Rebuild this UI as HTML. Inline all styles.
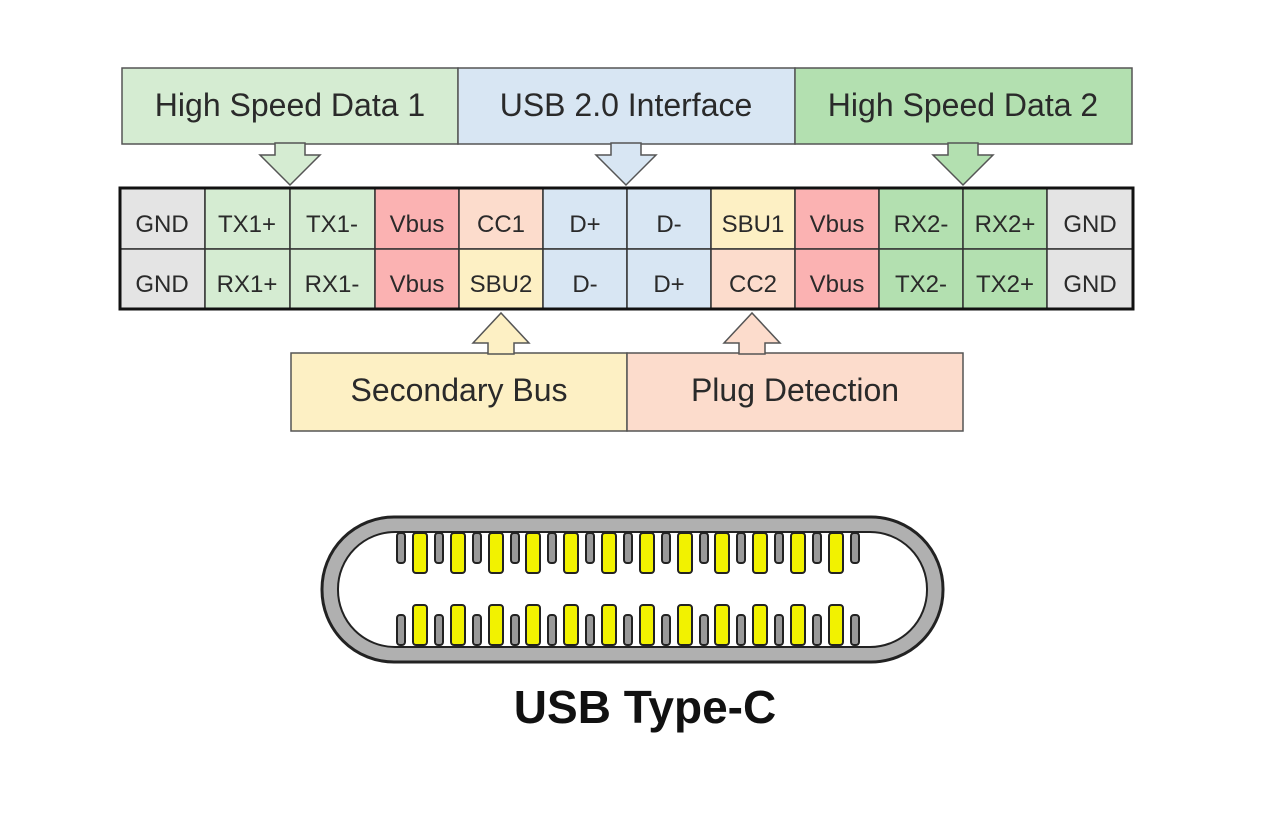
<!DOCTYPE html>
<html><head><meta charset="utf-8"><style>
html,body{margin:0;padding:0;background:#fff;}
svg{display:block}
text{font-family:"Liberation Sans",sans-serif;}
.c{font-size:24px;fill:#2a2a2a;text-anchor:middle}
.h{font-size:32px;fill:#2a2a2a;text-anchor:middle}
</style></head><body>
<svg width="1271" height="840" viewBox="0 0 1271 840">
<rect x="122" y="68" width="336" height="76" fill="#d5ecd2" stroke="#555" stroke-width="1.5"/>
<rect x="458" y="68" width="337" height="76" fill="#d8e6f3" stroke="#555" stroke-width="1.5"/>
<rect x="795" y="68" width="337" height="76" fill="#b3e0b0" stroke="#555" stroke-width="1.5"/>
<text class="h" x="290" y="116">High Speed Data 1</text>
<text class="h" x="626" y="116">USB 2.0 Interface</text>
<text class="h" x="963" y="116">High Speed Data 2</text>
<polygon points="275,143 275,155 260,155 290,185 320,155 305,155 305,143" fill="#d5ecd2" stroke="#555" stroke-width="1.5"/>
<polygon points="611,143 611,155 596,155 626,185 656,155 641,155 641,143" fill="#d8e6f3" stroke="#555" stroke-width="1.5"/>
<polygon points="948,143 948,155 933,155 963,185 993,155 978,155 978,143" fill="#b3e0b0" stroke="#555" stroke-width="1.5"/>
<g stroke="#333" stroke-width="1.5">
<rect x="120" y="188" width="85" height="61" fill="#e4e4e4"/>
<rect x="205" y="188" width="85" height="61" fill="#d5ecd2"/>
<rect x="290" y="188" width="85" height="61" fill="#d5ecd2"/>
<rect x="375" y="188" width="84" height="61" fill="#fbb2b2"/>
<rect x="459" y="188" width="84" height="61" fill="#fcdccc"/>
<rect x="543" y="188" width="84" height="61" fill="#d8e6f3"/>
<rect x="627" y="188" width="84" height="61" fill="#d8e6f3"/>
<rect x="711" y="188" width="84" height="61" fill="#fdf0c4"/>
<rect x="795" y="188" width="84" height="61" fill="#fbb2b2"/>
<rect x="879" y="188" width="84" height="61" fill="#b3e0b0"/>
<rect x="963" y="188" width="84" height="61" fill="#b3e0b0"/>
<rect x="1047" y="188" width="86" height="61" fill="#e4e4e4"/>
<rect x="120" y="249" width="85" height="60" fill="#e4e4e4"/>
<rect x="205" y="249" width="85" height="60" fill="#d5ecd2"/>
<rect x="290" y="249" width="85" height="60" fill="#d5ecd2"/>
<rect x="375" y="249" width="84" height="60" fill="#fbb2b2"/>
<rect x="459" y="249" width="84" height="60" fill="#fdf0c4"/>
<rect x="543" y="249" width="84" height="60" fill="#d8e6f3"/>
<rect x="627" y="249" width="84" height="60" fill="#d8e6f3"/>
<rect x="711" y="249" width="84" height="60" fill="#fcdccc"/>
<rect x="795" y="249" width="84" height="60" fill="#fbb2b2"/>
<rect x="879" y="249" width="84" height="60" fill="#b3e0b0"/>
<rect x="963" y="249" width="84" height="60" fill="#b3e0b0"/>
<rect x="1047" y="249" width="86" height="60" fill="#e4e4e4"/>
</g>
<rect x="120" y="188" width="1013" height="121" fill="none" stroke="#111" stroke-width="3"/>
<text class="c" x="162" y="232">GND</text><text class="c" x="247" y="232">TX1+</text><text class="c" x="332" y="232">TX1-</text><text class="c" x="417" y="232">Vbus</text><text class="c" x="501" y="232">CC1</text><text class="c" x="585" y="232">D+</text><text class="c" x="669" y="232">D-</text><text class="c" x="753" y="232">SBU1</text><text class="c" x="837" y="232">Vbus</text><text class="c" x="921" y="232">RX2-</text><text class="c" x="1005" y="232">RX2+</text><text class="c" x="1090" y="232">GND</text>
<text class="c" x="162" y="292">GND</text><text class="c" x="247" y="292">RX1+</text><text class="c" x="332" y="292">RX1-</text><text class="c" x="417" y="292">Vbus</text><text class="c" x="501" y="292">SBU2</text><text class="c" x="585" y="292">D-</text><text class="c" x="669" y="292">D+</text><text class="c" x="753" y="292">CC2</text><text class="c" x="837" y="292">Vbus</text><text class="c" x="921" y="292">TX2-</text><text class="c" x="1005" y="292">TX2+</text><text class="c" x="1090" y="292">GND</text>
<rect x="291" y="353" width="336" height="78" fill="#fdf0c4" stroke="#555" stroke-width="1.5"/>
<rect x="627" y="353" width="336" height="78" fill="#fcdccc" stroke="#555" stroke-width="1.5"/>
<polygon points="488,354 488,343 473,343 501,313 529,343 514,343 514,354" fill="#fdf0c4" stroke="#555" stroke-width="1.5"/>
<polygon points="739,354 739,343 724,343 752,313 780,343 765,343 765,354" fill="#fcdccc" stroke="#555" stroke-width="1.5"/>
<text class="h" x="459" y="401">Secondary Bus</text>
<text class="h" x="795" y="401">Plug Detection</text>
<rect x="322" y="517" width="621" height="145" rx="72" fill="#b0b0b0" stroke="#222" stroke-width="3"/>
<rect x="338" y="532" width="589" height="115" rx="57" fill="#fff" stroke="#222" stroke-width="2"/>
<g stroke="#222" stroke-width="2">
<g fill="#999">
<rect x="397" y="533" width="8" height="30" rx="3"/><rect x="435" y="533" width="8" height="30" rx="3"/><rect x="473" y="533" width="8" height="30" rx="3"/><rect x="511" y="533" width="8" height="30" rx="3"/><rect x="548" y="533" width="8" height="30" rx="3"/><rect x="586" y="533" width="8" height="30" rx="3"/><rect x="624" y="533" width="8" height="30" rx="3"/><rect x="662" y="533" width="8" height="30" rx="3"/><rect x="700" y="533" width="8" height="30" rx="3"/><rect x="737" y="533" width="8" height="30" rx="3"/><rect x="775" y="533" width="8" height="30" rx="3"/><rect x="813" y="533" width="8" height="30" rx="3"/><rect x="851" y="533" width="8" height="30" rx="3"/>
<rect x="397" y="615" width="8" height="30" rx="3"/><rect x="435" y="615" width="8" height="30" rx="3"/><rect x="473" y="615" width="8" height="30" rx="3"/><rect x="511" y="615" width="8" height="30" rx="3"/><rect x="548" y="615" width="8" height="30" rx="3"/><rect x="586" y="615" width="8" height="30" rx="3"/><rect x="624" y="615" width="8" height="30" rx="3"/><rect x="662" y="615" width="8" height="30" rx="3"/><rect x="700" y="615" width="8" height="30" rx="3"/><rect x="737" y="615" width="8" height="30" rx="3"/><rect x="775" y="615" width="8" height="30" rx="3"/><rect x="813" y="615" width="8" height="30" rx="3"/><rect x="851" y="615" width="8" height="30" rx="3"/>
</g>
<g fill="#f2f200">
<rect x="413" y="533" width="14" height="40" rx="3"/><rect x="451" y="533" width="14" height="40" rx="3"/><rect x="489" y="533" width="14" height="40" rx="3"/><rect x="526" y="533" width="14" height="40" rx="3"/><rect x="564" y="533" width="14" height="40" rx="3"/><rect x="602" y="533" width="14" height="40" rx="3"/><rect x="640" y="533" width="14" height="40" rx="3"/><rect x="678" y="533" width="14" height="40" rx="3"/><rect x="715" y="533" width="14" height="40" rx="3"/><rect x="753" y="533" width="14" height="40" rx="3"/><rect x="791" y="533" width="14" height="40" rx="3"/><rect x="829" y="533" width="14" height="40" rx="3"/>
<rect x="413" y="605" width="14" height="40" rx="3"/><rect x="451" y="605" width="14" height="40" rx="3"/><rect x="489" y="605" width="14" height="40" rx="3"/><rect x="526" y="605" width="14" height="40" rx="3"/><rect x="564" y="605" width="14" height="40" rx="3"/><rect x="602" y="605" width="14" height="40" rx="3"/><rect x="640" y="605" width="14" height="40" rx="3"/><rect x="678" y="605" width="14" height="40" rx="3"/><rect x="715" y="605" width="14" height="40" rx="3"/><rect x="753" y="605" width="14" height="40" rx="3"/><rect x="791" y="605" width="14" height="40" rx="3"/><rect x="829" y="605" width="14" height="40" rx="3"/>
</g>
</g>
<text x="645" y="723" text-anchor="middle" style="font-size:46px;font-weight:bold;fill:#111">USB Type-C</text>
</svg>
</body></html>
